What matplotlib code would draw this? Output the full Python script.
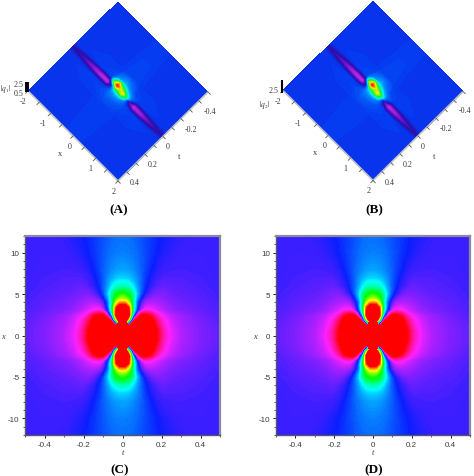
import numpy as np
import matplotlib
matplotlib.use('Agg')
import matplotlib.pyplot as plt
from matplotlib.colors import LinearSegmentedColormap
from matplotlib.transforms import Affine2D

W, H = 474, 477
N = np.nan

# panels C, D: one quadrant (t >= 0, x >= 0), hue offset from pure blue in degrees
map_t = [0, .02, .04, .06, .08, .10, .12, .15, .18, .21, .25, .30, .40, .50]
map_x = [0, .6, 1.2, 1.8, 2.4, 3, 3.5, 4, 4.5, 5, 5.5, 6, 7, 8, 10, 12]
map_hue = [
    [N, N, N, 150, 150, 150, 150, 140, 112, 78, 54, 40, 28, 20],
    [N, N, N, 150, 150, 150, 150, 138, 112, 76, 53, 40, 28, 20],
    [N, N, 130, 150, 150, 150, 150, 135, 100, 70, 50, 38, 27, 19],
    [-300, -300, -140, 110, 135, 140, 140, 125, 90, 64, 47, 37, 26, 18],
    [-300, -300, -240, -40, 80, 125, 125, 105, 72, 55, 43, 34, 24, 17],
    [-300, -290, -230, -80, 0, 50, 68, 62, 50, 42, 34, 28, 21, 15],
    [-290, -280, -215, -90, -15, 30, 48, 50, 44, 38, 31, 26, 20, 15],
    [-215, -210, -165, -80, -20, 15, 35, 40, 38, 34, 28, 24, 19, 14],
    [-165, -160, -130, -85, -35, -3, 20, 32, 33, 30, 26, 22, 18, 13],
    [-135, -125, -115, -85, -45, -15, 5, 22, 28, 27, 23, 20, 17, 13],
    [-108, -105, -95, -70, -40, -18, -2, 15, 23, 24, 21, 19, 16, 12],
    [-80, -78, -72, -55, -35, -18, -5, 8, 17, 21, 19, 18, 15, 12],
    [-50, -49, -45, -38, -29, -18, -8, 3, 12, 16, 16, 16, 14, 11],
    [-36, -35, -33, -29, -24, -18, -11, -2, 6, 11, 13, 14, 13, 11],
    [-27, -26, -25, -23, -20, -16, -12, -6, -1, 4, 8, 11, 12, 10],
    [-22, -22, -21, -19, -17, -14, -11, -7, -3, 1, 5, 9, 11, 10],
]

# panels A, B: surface seen from above, colour value 0..1
top_t = [-.5, -.15, -.08, -.05, -.03, -.015, 0, .015, .03, .05, .08, .15, .5]
top_x = [-2, -1.5, -1, -.7, -.45, -.3, -.15, 0, .15, .3, .45, .7, 1, 1.5, 2]
top_val = [
    [.30, .30, .30, .30, .27, .23, .20, .23, .27, .30, .30, .30, .30],
    [.30, .30, .30, .30, .23, .18, .14, .18, .23, .30, .30, .30, .30],
    [.30, .30, .31, .30, .18, .09, .05, .09, .18, .30, .31, .30, .30],
    [.30, .30, .31, .30, .16, .05, .02, .05, .16, .30, .31, .30, .30],
    [.30, .30, .32, .32, .18, .05, .01, .05, .18, .30, .32, .30, .30],
    [.30, .31, .38, .60, .70, .45, .20, .24, .28, .33, .33, .31, .30],
    [.30, .32, .42, .85, 1.0, .82, .62, .46, .41, .38, .35, .31, .30],
    [.30, .32, .45, .66, .80, .72, .66, .55, .44, .39, .35, .31, .30],
    [.30, .32, .40, .55, .68, .82, .72, .56, .45, .38, .34, .31, .30],
    [.30, .31, .36, .43, .55, .60, .56, .46, .38, .36, .33, .31, .30],
    [.30, .30, .32, .36, .38, .34, .14, .26, .30, .32, .32, .30, .30],
    [.30, .30, .31, .30, .16, .05, .02, .05, .16, .30, .31, .30, .30],
    [.30, .30, .31, .30, .18, .08, .04, .08, .18, .30, .31, .30, .30],
    [.30, .30, .30, .30, .23, .18, .14, .18, .23, .30, .30, .30, .30],
    [.30, .30, .30, .30, .27, .23, .20, .23, .27, .30, .30, .30, .30],
]

map_colors = ['#ff0000', '#ffff00', '#00ff00', '#00ffff', '#0a1eff', '#ff20ff', '#ff0000']
top_colors = [(0, '#d732e1'), (.1, '#7814d2'), (.2, '#2a0ca8'), (.3, '#0537f0'), (.4, '#008cff'),
              (.5, '#00f0f0'), (.65, '#1ef028'), (.8, '#f0f000'), (.9, '#ff8200'), (1, '#eb1e00')]

x_ticks = [-2, -1, 0, 1, 2]
t_ticks = [-.4, -.2, 0, .2, .4]
map_t_ticks = [-.4, -.2, 0, .2, .4]
map_x_ticks = [-10, -5, 0, 5, 10]

serif = 'Liberation Serif'
sans = 'Liberation Sans'
ink = '#3a3a3a'


def full_map():
    q = np.array(map_hue, dtype=float)
    z = np.hstack([q[:, :0:-1], q])
    z = np.vstack([z[:0:-1], z])
    t = np.array(map_t)
    x = np.array(map_x)
    return np.r_[-t[:0:-1], t], np.r_[-x[:0:-1], x], z


def draw_map(rect, letter, label_px, cap_x):
    left, top, right, bottom = rect
    ax = fig.add_axes([left / W, 1 - bottom / H, (right - left) / W, (bottom - top) / H])
    ax.set_facecolor('#ff0000')
    t, x, z = full_map()
    cmap = LinearSegmentedColormap.from_list('hue', map_colors, N=360)
    cmap.set_over('#ff0000')
    cmap.set_under('#ff0000')
    ax.contourf(t, x, z, levels=np.linspace(-240, 120, 181), cmap=cmap, extend='both')
    ax.set_xlim(-.5, .5)
    ax.set_ylim(-12, 12)
    ax.set_xticks(map_t_ticks)
    ax.set_xticklabels(['%g' % v for v in map_t_ticks], fontsize=5.8, family=sans, color=ink)
    ax.set_yticks(map_x_ticks)
    ax.set_yticklabels(['%g' % v for v in map_x_ticks], fontsize=5.8, family=sans, color=ink)
    ax.set_xticks(np.arange(-.5, .51, .1), minor=True)
    ax.set_yticks(np.arange(-12, 13, 1), minor=True)
    ax.tick_params(length=2.5, width=.7, pad=1.5, color='#222222')
    ax.tick_params(which='minor', length=1.3, width=.5, color='#222222')
    for side in ['left', 'bottom']:
        ax.spines[side].set_color('#555566')
        ax.spines[side].set_linewidth(1)
    for side in ['top', 'right']:
        ax.spines[side].set_color('#8a8a9e')
        ax.spines[side].set_linewidth(1.6)
    over.text((left + right) / 2, 453, 't', family=serif, style='italic', fontsize=6, color=ink,
              ha='center', va='center')
    over.text(label_px, 337, 'x', family=serif, style='italic', fontsize=6, color=ink,
              ha='center', va='center')
    over.text(cap_x, 470, '(%s)' % letter, family=serif, weight='bold', fontsize=9.5, ha='center', va='center')


def draw_top(cx, cy, letter, z_label, z_label_px, z_texts, bar, cap_x):
    tfm = Affine2D(np.array([[-90, 22.5, cx], [89, 22.5, cy], [0, 0, 1]], dtype=float))
    cmap = LinearSegmentedColormap.from_list('top', top_colors, N=256)
    trans = tfm + over.transData
    over.contourf(top_t, top_x, np.array(top_val), levels=np.linspace(0, 1, 101), cmap=cmap,
                  transform=trans, extend='both')
    # box edges on the near side
    over.plot([.5, .5], [-2, 2], color='#c4c4c4', lw=1.2, transform=trans, solid_capstyle='butt')
    over.plot([-.5, .5], [2, 2], color='#c4c4c4', lw=1.2, transform=trans, solid_capstyle='butt')
    for v in np.arange(-2, 2.01, .5):
        over.plot([.5, .525], [v, v], color='#555555', lw=.6, transform=trans)
    for v in np.arange(-.5, .51, .1):
        over.plot([v, v], [2, 2.1], color='#555555', lw=.6, transform=trans)
    for v, off in zip(x_ticks, [(-5, 10), (-7, 10), (-3, 10), (-5, 10), (-4, 10)]):
        px, py = tfm.transform((.5, v))
        over.text(px + off[0], py + off[1], str(v), family=serif, fontsize=5.8, color=ink,
                  ha='center', va='center')
    for v, off in zip(t_ticks, [(11, 10), (10, 10), (5, 10), (8, 10), (8, 10)]):
        px, py = tfm.transform((v, 2))
        over.text(px + off[0], py + off[1], '%g' % v, family=serif, fontsize=5.8, color=ink,
                  ha='center', va='center')
    px, py = tfm.transform((.5, -.5))
    over.text(px - 2, py + 28, 'x', family=serif, fontsize=6, color=ink, ha='center', va='center')
    px, py = tfm.transform((-.05, 2))
    over.text(px + 11.5, py + 24, 't', family=serif, fontsize=6, color=ink, ha='center', va='center')
    over.plot(bar[0], bar[1], color='black', lw=bar[2], solid_capstyle='butt')
    for s, tx, ty in z_texts:
        over.text(tx, ty, s, family=serif, fontsize=5.8, color=ink, ha='center', va='center')
    over.text(z_label_px[0], z_label_px[1], z_label, fontsize=5.5, color=ink, ha='center', va='center',
              math_fontfamily='stix')
    over.text(cap_x, 210, '(%s)' % letter, family=serif, weight='bold', fontsize=9.5, ha='center', va='center')


fig = plt.figure(figsize=(W / 100, H / 100), dpi=100)
over = fig.add_axes([0, 0, 1, 1], zorder=0)
over.set_xlim(0, W)
over.set_ylim(H, 0)
over.axis('off')

draw_top(118, 92.5, 'A', r'$|q_1|$', (6, 89), [('2.5', 19, 85), ('0.5', 19, 94)], ([27, 27], [83, 93], 2.8), 119)
draw_top(373, 92, 'B', r'$|q_2|$', (265, 105), [('2.5', 274, 91)], ([282, 282], [81, 94], 1.5), 374)
draw_map((25, 237, 220, 436), 'C', 3, 120)
draw_map((276, 237, 470, 436), 'D', 255, 374)

plt.savefig('out.png', dpi=100)
